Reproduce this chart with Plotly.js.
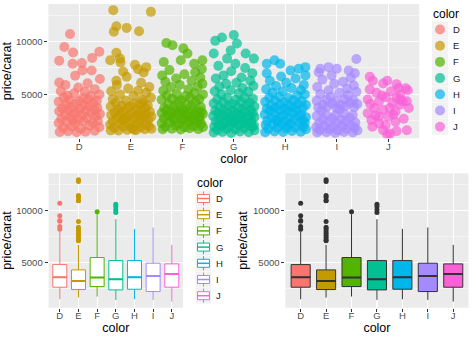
<!DOCTYPE html>
<html><head><meta charset="utf-8">
<script src="https://cdn.plot.ly/plotly-3.0.1.min.js"></script>
<style>html,body{margin:0;padding:0;background:#fff}#chart{width:474px;height:338px}</style>
</head><body><div id="chart"></div>
<script>
const categories = ['D','E','F','G','H','I','J'];
const colors = ['#F8766D','#C49A00','#53B400','#00C094','#00B6EB','#A58AFF','#FB61D7'];
const yTickVals = [5000, 10000];
const yTickText = ['5000', '10000'];
const yMinorVals = [2500, 7500, 12500];

const jitterD = [-0.38,-0.22,-0.05,0.12,0.30,0.39,-0.31,-0.14,0.03,0.20,-0.40,-0.25,-0.08,0.08,0.26,0.36,
 -0.35,-0.18,-0.02,0.15,0.32,-0.28,-0.10,0.06,0.23,0.40,-0.39,-0.21,-0.04,0.13,0.30,-0.12,
 -0.33,-0.16,0.01,0.18,0.35,-0.26,-0.07,0.10,0.27,-0.40,-0.19,0.00,0.17,0.34,-0.30,0.07,
 -0.23,0.22,0.39,-0.10,-0.36,0.11,0.30,-0.02,-0.27,0.16,
 -0.39,0.40,-0.08,0.24,0.06,-0.13,0.05,0.25,-0.39,0.39,-0.12,-0.29,-0.18];
const priceD = [1450,1520,1419,1480,1560,1900,1850,1980,1750,2050,2300,2400,2250,2480,2350,2500,
 2700,2850,2650,2800,2950,3100,3200,3050,3250,3150,3400,3500,3350,3450,3550,2600,
 3700,3800,3650,3900,3750,4050,4150,4000,4200,4300,4450,4350,4550,4400,4700,4650,
 4900,4850,5000,5100,5300,5250,5500,5650,5900,6050,
 6129,6452,6774,7258,7258,7903,7968,8452,8194,9032,8968,9484,10710];

const jitterE = [-0.39,-0.24,-0.07,0.10,0.27,0.40,-0.32,-0.15,0.02,0.19,0.35,-0.40,-0.20,-0.03,0.14,0.30,0.06,
 -0.35,-0.17,0.00,0.17,0.34,-0.27,-0.09,0.08,0.25,0.40,-0.38,-0.21,-0.04,0.12,0.29,-0.13,0.20,
 -0.31,-0.14,0.03,0.20,0.37,-0.24,-0.06,0.11,0.28,-0.39,-0.18,-0.01,0.16,0.33,-0.29,0.07,0.24,
 -0.10,-0.35,0.22,0.39,0.05,-0.21,0.30,-0.38,0.14,-0.05,0.36,-0.27,0.20,-0.28,-0.08,
 0.25,-0.15,0.14,0.30,0.08,-0.20,-0.40,-0.21,-0.28,-0.33,0.16,-0.08,-0.28,0.39,-0.34];
const priceE = [1600,1580,1650,1620,1700,1750,1850,1950,1800,1900,2000,2150,2250,2100,2300,2200,1680,
 2450,2550,2400,2500,2600,2750,2850,2700,2800,2900,3050,3150,3000,3100,3180,2650,3000,
 3300,3400,3250,3450,3350,3600,3700,3550,3750,3850,3950,3900,4050,3950,4200,4150,4250,
 4400,4550,4500,4700,4850,5000,5150,5300,5350,5550,5700,5900,6100,6290,6677,
 7065,7160,7390,7580,7810,8030,8226,8387,8936,10936,10968,11290,11452,12806,12968];

const jitterF = [-0.38,-0.20,-0.03,0.14,0.31,0.40,-0.33,-0.12,0.05,0.22,0.37,-0.40,-0.25,-0.06,0.11,0.28,-0.17,0.02,0.19,0.34,
 -0.36,-0.19,-0.01,0.16,0.33,-0.28,-0.10,0.07,0.24,0.40,-0.40,-0.22,-0.05,0.12,0.29,-0.31,-0.14,0.03,0.20,0.37,
 -0.35,-0.16,0.01,0.18,0.36,-0.27,-0.08,0.09,0.26,-0.40,-0.20,-0.02,0.15,0.33,-0.30,-0.11,0.06,0.23,0.40,-0.37,
 0.12,-0.22,0.30,-0.05,0.39,-0.33,0.18,-0.12,0.35,-0.39,0.04,0.25,-0.25,0.38,-0.36,0.23,-0.03,0.39,0.10,0.02,-0.19,-0.31];
const priceF = [1700,1750,1677,1800,1720,1900,1950,2050,1900,2000,2200,2300,2350,2250,2400,2450,2550,2600,2500,2620,
 2750,2800,2700,2850,2900,3000,3100,2950,3050,3150,3250,3300,3350,3200,3400,3500,3450,3500,3480,3380,
 3700,3850,3650,3900,3800,4100,4250,4050,4300,4500,4600,4450,4700,4550,4900,5050,4850,5100,5000,5350,
 5500,5700,5750,5900,6000,6200,6300,6500,6600,6800,6900,7100,7300,7400,8065,7903,8226,8226,8871,9355,9650,9870];

const jitterG = [-0.39,-0.22,-0.05,0.12,0.29,0.40,-0.32,-0.14,0.03,0.20,0.36,-0.38,-0.25,-0.08,0.09,0.26,-0.17,0.01,0.18,0.33,-0.30,0.39,
 -0.35,-0.18,0.00,0.17,0.34,-0.27,-0.10,0.07,0.24,0.40,-0.40,-0.22,-0.04,0.13,0.30,-0.31,-0.13,0.04,0.21,0.37,-0.06,0.15,
 -0.36,-0.19,-0.01,0.16,0.33,-0.28,-0.10,0.07,0.24,0.40,-0.39,-0.21,-0.03,0.14,0.31,-0.32,-0.13,0.04,0.21,0.37,-0.24,0.10,
 -0.37,0.28,-0.06,0.17,0.38,-0.28,-0.15,0.05,0.32,-0.35,0.15,-0.20,0.36,-0.05,0.22,-0.30,0.03,-0.13,0.39,0.23,-0.39,-0.06,
 0.06,-0.36,-0.23,0.00];
const priceG = [1400,1450,1355,1500,1420,1600,1650,1750,1700,1800,1900,1950,2050,2000,2100,2150,2250,2300,2280,2250,2200,2050,
 2450,2500,2400,2550,2500,2700,2800,2650,2750,2850,2950,3050,2950,3100,3000,3250,3300,3200,3350,3250,2600,2900,
 3450,3550,3450,3600,3500,3800,3900,3750,3950,3850,4150,4250,4100,4300,4200,4550,4650,4500,4700,4600,5000,5100,
 5300,5250,5400,5600,5800,5750,6000,6100,6300,6500,6600,6800,7000,7200,7500,7700,7903,8387,8387,8871,8871,9161,
 9807,10065,10387,10613];

const jitterH = [-0.39,-0.21,-0.04,0.13,0.30,0.40,-0.33,-0.15,0.02,0.19,0.35,-0.38,-0.24,-0.07,0.10,0.27,-0.16,0.04,0.38,
 -0.35,-0.17,0.00,0.17,0.34,-0.27,-0.09,0.08,0.25,0.40,-0.40,-0.21,-0.03,0.14,0.31,-0.30,-0.12,0.05,0.22,
 -0.36,-0.19,-0.01,0.16,0.34,-0.28,-0.10,0.07,0.24,0.40,-0.39,-0.20,-0.02,0.15,0.32,-0.31,-0.12,0.06,0.23,
 0.38,-0.25,-0.05,0.30,-0.37,0.12,-0.18,0.36,0.02,-0.30,0.20,-0.08,0.39,-0.36,0.10,0.26,0.39,-0.10,-0.36,-0.21];
const priceH = [1419,1500,1450,1550,1480,1700,1750,1850,1800,1900,1950,2100,2200,2150,2250,2300,2380,2050,2350,
 2500,2600,2450,2650,2550,2800,2900,2750,2950,2850,3100,3200,3050,3250,3150,3450,3500,3400,3530,
 3650,3750,3650,3800,3700,3950,4050,3900,4100,4000,4300,4400,4250,4450,4350,4700,4800,4650,4900,
 5000,5150,5300,5400,5500,5600,5800,5900,6100,6300,6500,6700,6800,7000,7258,7419,7580,7903,7903,8226];

const jitterI = [-0.38,-0.20,-0.03,0.14,0.31,0.40,-0.33,-0.15,0.02,0.19,0.35,-0.40,-0.24,-0.07,0.10,0.27,
 -0.34,-0.16,0.01,0.18,0.36,-0.27,-0.09,0.08,0.25,-0.39,-0.21,-0.03,0.14,0.31,-0.30,0.05,
 -0.36,-0.18,0.00,0.17,0.34,-0.27,-0.09,0.08,0.25,0.40,-0.39,-0.20,-0.02,0.15,0.32,-0.12,
 0.22,-0.32,0.05,0.38,-0.16,0.20,-0.38,0.33,-0.05,0.12,-0.28,0.27,-0.10,0.35,-0.35,0.23,-0.32,-0.16,0.00,0.38];
const priceI = [1400,1420,1355,1450,1400,1600,1650,1700,1600,1750,1850,1900,2000,1950,2050,2100,
 2300,2400,2250,2450,2350,2650,2750,2600,2800,2950,3100,3000,3200,3050,3450,3550,
 3750,3850,3700,3900,3800,4050,4150,4000,4200,4100,4400,4500,4350,4550,4450,4800,
 4950,5050,5150,5250,5400,5550,5700,5850,6000,6200,6400,6550,6800,7000,7100,7258,7419,7580,7419,8355];

const jitterJ = [-0.36,-0.30,-0.10,-0.02,0.16,0.34,0.38,0.23,0.16,0.28,0.40,-0.36,-0.23,-0.40,-0.18,-0.05,-0.27,-0.10,0.03,-0.40,-0.33,-0.18,
 0.00,0.14,0.23,0.36,-0.18,-0.31,-0.05,0.14,-0.10,0.03,0.16,0.36,-0.02,0.23,0.08,-0.25,0.30,0.10,-0.12,0.20,0.05,-0.35];
const priceJ = [6677,6290,6030,6290,5970,5580,5390,5000,4680,4360,3710,5480,5160,4520,4360,4740,3710,3550,3710,3230,2580,2900,
 2900,3390,4030,4360,2260,1935,2100,2420,1610,1290,1530,1610,1193,4520,4200,3000,2700,3100,4900,5600,5300,4100];

const boxQ1 = [2580, 2355, 2645, 2322, 2387, 2161, 2580];
const boxMedian = [3548, 3193, 3516, 3355, 3548, 3677, 3871];
const boxQ3 = [4770, 4258, 5452, 5161, 5161, 4903, 4839];
const boxLower = [1419, 1580, 1677, 1355, 1419, 1355, 1193];
const boxUpper = [7968, 6677, 9650, 9161, 8226, 8355, 6677];

const jitters = [jitterD, jitterE, jitterF, jitterG, jitterH, jitterI, jitterJ];
const prices = [priceD, priceE, priceF, priceG, priceH, priceI, priceJ];

const W = 474, H = 338;
const px = v => v / W, py = v => 1 - v / H;
const FONT = 'Liberation Sans, Arial, Helvetica, sans-serif';
const BOXW = 0.75;

const traces = [];
categories.forEach((c, i) => {
  traces.push({type:'scatter', mode:'markers', name:c, xaxis:'x', yaxis:'y',
    x: jitters[i].map(d => i + d), y: prices[i],
    marker:{color:colors[i], size:10, opacity:0.7, line:{width:0}},
    showlegend:false, hoverinfo:'skip'});
});
function addBoxes(xa, ya, filled) {
  categories.forEach((c, i) => {
    const lineCol = filled ? '#333333' : colors[i];
    traces.push({type:'box', name:c, xaxis:xa, yaxis:ya, orientation:'v',
      x:[i], q1:[boxQ1[i]], median:[boxMedian[i]], q3:[boxQ3[i]],
      lowerfence:[boxLower[i]], upperfence:[boxUpper[i]],
      width:BOXW, whiskerwidth:0, boxpoints:false,
      line:{color:lineCol, width:1}, fillcolor: filled ? colors[i] : '#FFFFFF',
      showlegend:false, hoverinfo:'skip'});
    traces.push({type:'scatter', mode:'lines', xaxis:xa, yaxis:ya,
      x:[i - BOXW/2, i + BOXW/2], y:[boxMedian[i], boxMedian[i]],
      line:{color:lineCol, width:2}, showlegend:false, hoverinfo:'skip'});
    const out = prices[i].filter(v => v > boxUpper[i] || v < boxLower[i]);
    traces.push({type:'scatter', mode:'markers', xaxis:xa, yaxis:ya,
      x: out.map(() => i), y: out,
      marker:{color:lineCol, size:5}, showlegend:false, hoverinfo:'skip'});
  });
}
addBoxes('x2', 'y2', false);
addBoxes('x3', 'y3', true);

function xAxis(domain, anchor) {
  return {domain:domain, anchor:anchor, type:'linear', range:[-0.6, 6.6],
    tickmode:'array', tickvals:categories.map((c,i)=>i), ticktext:categories,
    showgrid:true, gridcolor:'#FFFFFF', gridwidth:1.1, zeroline:false, showline:false,
    ticks:'outside', ticklen:3, tickwidth:1, tickcolor:'#333333', ticklabelstandoff:-4,
    tickfont:{family:FONT, size:9.5, color:'#4D4D4D'},
    title:{text:'color', font:{family:FONT, size:12.5, color:'#000000'}, standoff:0},
    fixedrange:true, automargin:false};
}
function yAxis(domain, anchor, range) {
  return {domain:domain, anchor:anchor, type:'linear', range:range,
    tickmode:'array', tickvals:yTickVals, ticktext:yTickText,
    showgrid:true, gridcolor:'#FFFFFF', gridwidth:1.1, zeroline:false, showline:false,
    minor:{tickmode:'array', tickvals:yMinorVals, showgrid:true, gridcolor:'#FFFFFF', gridwidth:0.5, ticks:''},
    ticks:'outside', ticklen:3, tickwidth:1, tickcolor:'#333333',
    tickfont:{family:FONT, size:9.5, color:'#4D4D4D'},
    title:{text:'price/carat', font:{family:FONT, size:12.5, color:'#000000'}, standoff:2},
    fixedrange:true, automargin:false};
}

const shapes = [], annotations = [];
annotations.push({xref:'paper', yref:'paper', x:px(431), y:py(14), xanchor:'left', yanchor:'middle',
  text:'color', showarrow:false, font:{family:FONT, size:12, color:'#000000'}});
categories.forEach((c, i) => {
  const yc = 29.5 + 16.2 * i;
  shapes.push({type:'rect', xref:'paper', yref:'paper', x0:px(432), x1:px(448), y0:py(yc+8), y1:py(yc-8),
    fillcolor:'#F2F2F2', line:{width:0}});
  shapes.push({type:'circle', xref:'paper', yref:'paper', x0:px(435), x1:px(445), y0:py(yc+5), y1:py(yc-5),
    fillcolor:colors[i], opacity:0.7, line:{width:0}});
  annotations.push({xref:'paper', yref:'paper', x:px(450.5), y:py(yc), xanchor:'left', yanchor:'middle',
    text:c, showarrow:false, font:{family:FONT, size:9.5, color:'#1A1A1A'}});
});
annotations.push({xref:'paper', yref:'paper', x:px(194.5), y:py(183.3), xanchor:'left', yanchor:'middle',
  text:'color', showarrow:false, font:{family:FONT, size:12, color:'#000000'}});
categories.forEach((c, i) => {
  const yc = 198.5 + 16.2 * i;
  shapes.push({type:'rect', xref:'paper', yref:'paper', x0:px(195.5), x1:px(211.5), y0:py(yc+8), y1:py(yc-8),
    fillcolor:'#F2F2F2', line:{width:0}});
  shapes.push({type:'line', xref:'paper', yref:'paper', x0:px(203.5), x1:px(203.5), y0:py(yc-7), y1:py(yc-4),
    line:{color:colors[i], width:1}});
  shapes.push({type:'line', xref:'paper', yref:'paper', x0:px(203.5), x1:px(203.5), y0:py(yc+4), y1:py(yc+7),
    line:{color:colors[i], width:1}});
  shapes.push({type:'rect', xref:'paper', yref:'paper', x0:px(197.5), x1:px(209.5), y0:py(yc+4), y1:py(yc-4),
    fillcolor:'#FFFFFF', line:{color:colors[i], width:1}});
  shapes.push({type:'line', xref:'paper', yref:'paper', x0:px(197.5), x1:px(209.5), y0:py(yc), y1:py(yc),
    line:{color:colors[i], width:1.5}});
  annotations.push({xref:'paper', yref:'paper', x:px(213.5), y:py(yc), xanchor:'left', yanchor:'middle',
    text:c, showarrow:false, font:{family:FONT, size:9.5, color:'#1A1A1A'}});
});

const layout = {
  width:W, height:H, margin:{l:0, r:0, t:0, b:0},
  paper_bgcolor:'#FFFFFF', plot_bgcolor:'#EBEBEB',
  font:{family:FONT}, showlegend:false, boxmode:'overlay', hovermode:false,
  xaxis: xAxis([px(48.4), px(419.2)], 'y'),
  yaxis: yAxis([py(138.3), py(4)], 'x', [850, 13550]),
  xaxis2: xAxis([px(48.6), px(183)], 'y2'),
  yaxis2: yAxis([py(307.7), py(173.3)], 'x2', [600, 13600]),
  xaxis3: xAxis([px(285.4), px(468.5)], 'y3'),
  yaxis3: yAxis([py(307.7), py(173.3)], 'x3', [600, 13600]),
  shapes:shapes, annotations:annotations
};
Plotly.newPlot('chart', traces, layout, {staticPlot:true, displayModeBar:false});
</script></body></html>
